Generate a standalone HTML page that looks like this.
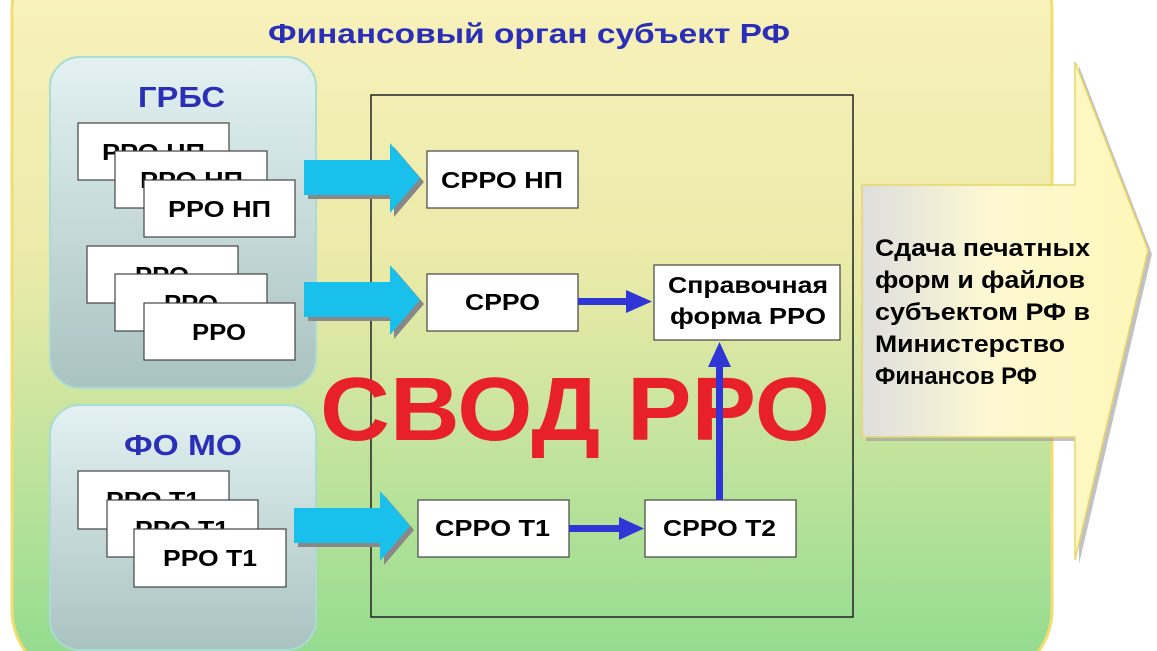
<!DOCTYPE html>
<html><head><meta charset="utf-8"><style>
html,body{margin:0;padding:0;background:#fff;}
svg{display:block;}
text{font-family:"Liberation Sans","DejaVu Sans",sans-serif;font-weight:bold;}
</style></head><body>
<svg width="1157" height="651" viewBox="0 0 1157 651" xmlns="http://www.w3.org/2000/svg">
<defs>
<linearGradient id="bg" x1="0" y1="0" x2="0" y2="1">
<stop offset="0" stop-color="#fbf3bf"/><stop offset="0.45" stop-color="#eaeaa8"/><stop offset="1" stop-color="#8fdb8e"/></linearGradient>
<linearGradient id="pan" x1="0" y1="0" x2="0" y2="1">
<stop offset="0" stop-color="#e3f1f2"/><stop offset="1" stop-color="#a9c3c1"/></linearGradient>
<linearGradient id="arr" x1="0" y1="0" x2="1" y2="0">
<stop offset="0" stop-color="#dedede"/><stop offset="0.45" stop-color="#fdf8d2"/><stop offset="1" stop-color="#fdf7b8"/></linearGradient>
</defs>
<rect width="1157" height="651" fill="#fff"/>
<rect x="12" y="-60" width="1040" height="740" rx="70" fill="url(#bg)" stroke="#f2dd70" stroke-width="3"/>
<text x="268" y="43" font-size="28" fill="#2b2fb8" textLength="522" lengthAdjust="spacingAndGlyphs">Финансовый орган субъект РФ</text>
<!-- panels -->
<rect x="50" y="57" width="266" height="331" rx="30" fill="url(#pan)" stroke="#a8dcd4" stroke-width="2"/>
<rect x="50" y="405" width="266" height="245" rx="30" fill="url(#pan)" stroke="#a8dcd4" stroke-width="2"/>
<text x="138" y="107" font-size="29" fill="#2b2fb8" textLength="87" lengthAdjust="spacingAndGlyphs">ГРБС</text>
<text x="124" y="455" font-size="29" fill="#2b2fb8" textLength="118" lengthAdjust="spacingAndGlyphs">ФО МО</text>
<!-- big rect -->
<rect x="371" y="95" width="482" height="522" fill="none" stroke="#222" stroke-width="1.5"/>
<!-- stacked docs -->
<g font-size="23" stroke="#444" stroke-width="1.2" fill="#fff">
<rect x="78" y="123" width="151" height="57"/><text x="102" y="160" stroke="none" fill="#000" textLength="103" lengthAdjust="spacingAndGlyphs">РРО НП</text>
<rect x="115" y="151" width="152" height="57"/><text x="140" y="188" stroke="none" fill="#000" textLength="103" lengthAdjust="spacingAndGlyphs">РРО НП</text>
<rect x="144" y="180" width="151" height="57"/><text x="168" y="217" stroke="none" fill="#000" textLength="103" lengthAdjust="spacingAndGlyphs">РРО НП</text>
<rect x="87" y="246" width="151" height="57"/><text x="135" y="283" stroke="none" fill="#000" textLength="54" lengthAdjust="spacingAndGlyphs">РРО</text>
<rect x="115" y="274" width="152" height="57"/><text x="164" y="311" stroke="none" fill="#000" textLength="54" lengthAdjust="spacingAndGlyphs">РРО</text>
<rect x="144" y="303" width="151" height="57"/><text x="192" y="340" stroke="none" fill="#000" textLength="54" lengthAdjust="spacingAndGlyphs">РРО</text>
<rect x="78" y="471" width="151" height="58"/><text x="106" y="508" stroke="none" fill="#000" textLength="94" lengthAdjust="spacingAndGlyphs">РРО Т1</text>
<rect x="107" y="500" width="151" height="57"/><text x="135" y="537" stroke="none" fill="#000" textLength="94" lengthAdjust="spacingAndGlyphs">РРО Т1</text>
<rect x="134" y="529" width="152" height="58"/><text x="163" y="566" stroke="none" fill="#000" textLength="94" lengthAdjust="spacingAndGlyphs">РРО Т1</text>
</g>
<!-- cyan arrows -->
<g fill="#1ac0ec">
<polygon points="308,164 394,164 394,147 424,182 394,217 394,199 308,199" fill="#888"/>
<polygon points="304,160 390,160 390,143 420,178 390,213 390,195 304,195"/>
<polygon points="308,286 394,286 394,269 424,304 394,339 394,321 308,321" fill="#888"/>
<polygon points="304,282 390,282 390,265 420,300 390,335 390,317 304,317"/>
<polygon points="298,512 384,512 384,495 414,530 384,565 384,547 298,547" fill="#888"/>
<polygon points="294,508 380,508 380,491 410,526 380,561 380,543 294,543"/>
</g>
<!-- right arrow -->
<polygon points="866,189 1079,189 1079,66 1152,254 1079,564 1079,441 866,441" fill="#999" opacity="0.6"/>
<polygon points="862,185 1075,185 1075,62 1148,250 1075,560 1075,437 862,437" fill="url(#arr)" stroke="#e8d66a" stroke-width="1.5"/>
<g font-size="24" fill="#000">
<text x="875" y="256" textLength="215" lengthAdjust="spacingAndGlyphs">Сдача печатных</text>
<text x="875" y="288" textLength="210" lengthAdjust="spacingAndGlyphs">форм и файлов</text>
<text x="875" y="320" textLength="215" lengthAdjust="spacingAndGlyphs">субъектом РФ в</text>
<text x="875" y="352" textLength="190" lengthAdjust="spacingAndGlyphs">Министерство</text>
<text x="875" y="384" textLength="162" lengthAdjust="spacingAndGlyphs">Финансов РФ</text>
</g>
<!-- red title -->
<text x="320" y="440" font-size="90" fill="#e8202a" textLength="510" lengthAdjust="spacingAndGlyphs">СВОД РРО</text>
<!-- center boxes -->
<g stroke="#444" stroke-width="1.2" fill="#fff">
<rect x="427" y="151" width="151" height="57"/>
<rect x="427" y="274" width="151" height="57"/>
<rect x="654" y="265" width="186" height="75"/>
<rect x="418" y="500" width="151" height="57"/>
<rect x="645" y="500" width="151" height="57"/>
</g>
<g font-size="23" fill="#000">
<text x="441" y="188" textLength="122" lengthAdjust="spacingAndGlyphs">СРРО НП</text>
<text x="465" y="310" textLength="75" lengthAdjust="spacingAndGlyphs">СРРО</text>
<text x="668" y="293" textLength="160" lengthAdjust="spacingAndGlyphs">Справочная</text>
<text x="670" y="324" textLength="156" lengthAdjust="spacingAndGlyphs">форма РРО</text>
<text x="435" y="536" textLength="115" lengthAdjust="spacingAndGlyphs">СРРО Т1</text>
<text x="663" y="536" textLength="113" lengthAdjust="spacingAndGlyphs">СРРО Т2</text>
</g>
<!-- blue arrows -->
<g fill="#3036d6">
<rect x="578" y="298" width="50" height="7"/><polygon points="626,290 652,301.5 626,313"/>
<rect x="569" y="525" width="52" height="7"/><polygon points="619,517 644,528.5 619,540"/>
<rect x="716" y="365" width="7" height="135"/><polygon points="708,367 719.5,342 731,367"/>
</g>
</svg>
</body></html>
